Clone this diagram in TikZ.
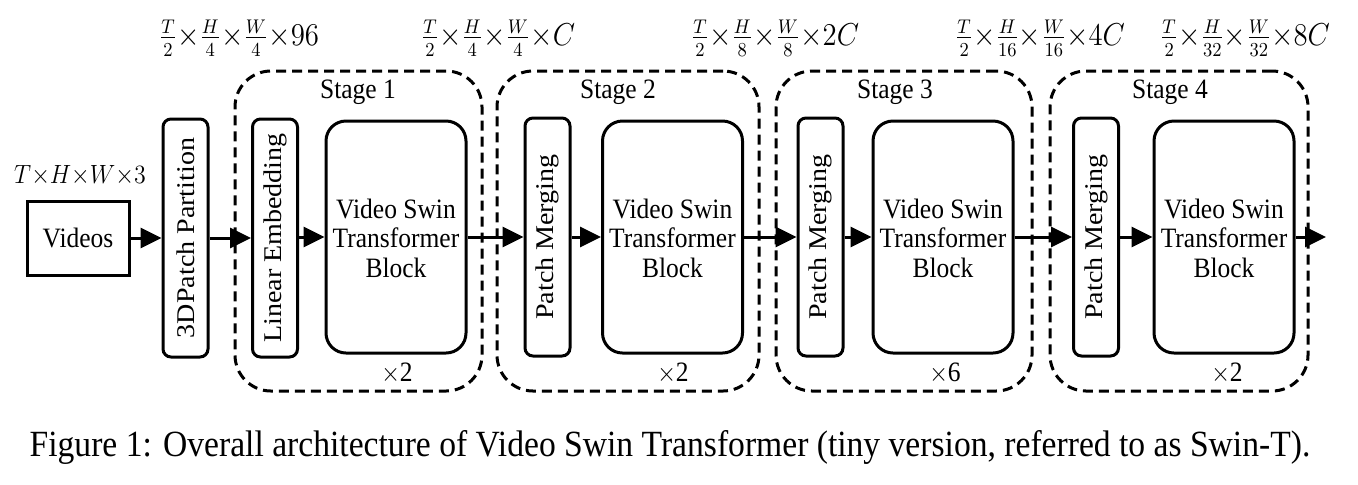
\documentclass[tikz,border=0pt]{standalone}
\usepackage{fontspec}
\setmainfont{Liberation Serif}
\usetikzlibrary{arrows.meta}
\newcommand{\vtext}[1]{\scalebox{1}[1.1]{#1}}
\newcommand{\rtext}[1]{\rotatebox{90}{\scalebox{1.1}[1]{#1}}}
\newcommand{\vstext}{\raisebox{-2.5pt}[\height][\depth]{\scalebox{1}[1.1]{\begin{tabular}{@{}c@{}}Video Swin\\Transformer\\Block\end{tabular}}}}
\begin{document}
\begin{tikzpicture}[x=0.5pt,y=-0.5pt,
  every node/.style={font=\fontsize{12.75}{13.6}\selectfont, inner sep=0pt},
  solidbox/.style={draw, line width=1.5pt},
  thinbox/.style={solidbox, rounded corners=4pt, minimum width=22.5pt, minimum height=119pt},
  vstbox/.style={solidbox, rounded corners=10pt, minimum width=70pt, minimum height=116pt, align=center},
  stagebox/.style={draw, line width=1.5pt, dash pattern=on 5pt off 3pt, rounded corners=18pt, minimum height=160pt},
  conn/.style={line width=1.5pt, -{Triangle[length=10.5pt,width=10pt]}},
  dimlabel/.style={font=\fontsize{13.4}{15}\selectfont},
]
\useasboundingbox (0,0) rectangle (1358,484);

% stage boxes
\node[stagebox, minimum width=123.5pt] (stage1) at (358.5,231) {};
\node[stagebox, minimum width=131pt] (stage2) at (628,231) {};
\node[stagebox, minimum width=128pt] (stage3) at (904,231) {};
\node[stagebox, minimum width=129pt] (stage4) at (1179,231) {};

\node (s1lab) at (358,92) {\vtext{Stage 1}};
\node (s2lab) at (618,92) {\vtext{Stage 2}};
\node (s3lab) at (895,92) {\vtext{Stage 3}};
\node (s4lab) at (1170,92) {\vtext{Stage 4}};

% blocks
\node[solidbox, minimum width=51pt, minimum height=37pt] (videos) at (78,238) {\vtext{Videos}};
\node[thinbox] (patch) at (185.5,238) {\rtext{3DPatch Partition}};
\node[thinbox] (linemb) at (275,238) {\rtext{Linear Embedding}};
\node[vstbox] (vst1) at (396,237) {\vstext};
\node[thinbox] (pm2) at (547.5,237) {\rtext{Patch Merging}};
\node[vstbox] (vst2) at (672.5,237) {\vstext};
\node[thinbox] (pm3) at (820.5,237) {\rtext{Patch Merging}};
\node[vstbox] (vst3) at (943,237) {\vstext};
\node[thinbox] (pm4) at (1096,237) {\rtext{Patch Merging}};
\node[vstbox] (vst4) at (1224,237) {\vstext};

\coordinate (out) at (1326,237);

% repeat counts
\node (r1) at (397,373) {\vtext{$\times$2}};
\node (r2) at (673,373) {\vtext{$\times$2}};
\node (r3) at (945,373) {\vtext{$\times$6}};
\node (r4) at (1227,373) {\vtext{$\times$2}};

% dimension labels
\node[dimlabel, font=\fontsize{12.6}{15}\selectfont] (d0) at (80,176) {\vtext{$T{\times}H{\times}W{\times}3$}};
\node[dimlabel] (d1) at (239,38) {\vtext{$\frac{T}{2}{\times}\frac{H}{4}{\times}\frac{W}{4}{\times}96$}};
\node[dimlabel] (d2) at (498,38) {\vtext{$\frac{T}{2}{\times}\frac{H}{4}{\times}\frac{W}{4}{\times}C$}};
\node[dimlabel] (d3) at (775,38) {\vtext{$\frac{T}{2}{\times}\frac{H}{8}{\times}\frac{W}{8}{\times}2C$}};
\node[dimlabel] (d4) at (1040,38) {\vtext{$\frac{T}{2}{\times}\frac{H}{16}{\times}\frac{W}{16}{\times}4C$}};
\node[dimlabel] (d5) at (1245,38) {\vtext{$\frac{T}{2}{\times}\frac{H}{32}{\times}\frac{W}{32}{\times}8C$}};

% connectors
\draw[conn] (videos.east) -- (videos.east -| patch.west);
\draw[conn] (patch.east |- linemb.west) -- (linemb.west);
\draw[conn] (linemb.east |- vst1.west) -- (vst1.west);
\draw[conn] (vst1.east) -- (vst1.east -| pm2.west);
\draw[conn] (pm2.east |- vst2.west) -- (vst2.west);
\draw[conn] (vst2.east) -- (vst2.east -| pm3.west);
\draw[conn] (pm3.east |- vst3.west) -- (vst3.west);
\draw[conn] (vst3.east) -- (vst3.east -| pm4.west);
\draw[conn] (pm4.east |- vst4.west) -- (vst4.west);
\draw[conn] (vst4.east) -- (out);

% caption
\node[font=\fontsize{16.8}{19}\selectfont, anchor=base] (caption) at (670,456) {\vtext{Figure 1: Overall architecture of Video Swin Transformer (tiny version, referred to as Swin-T).}};
\end{tikzpicture}
\end{document}
